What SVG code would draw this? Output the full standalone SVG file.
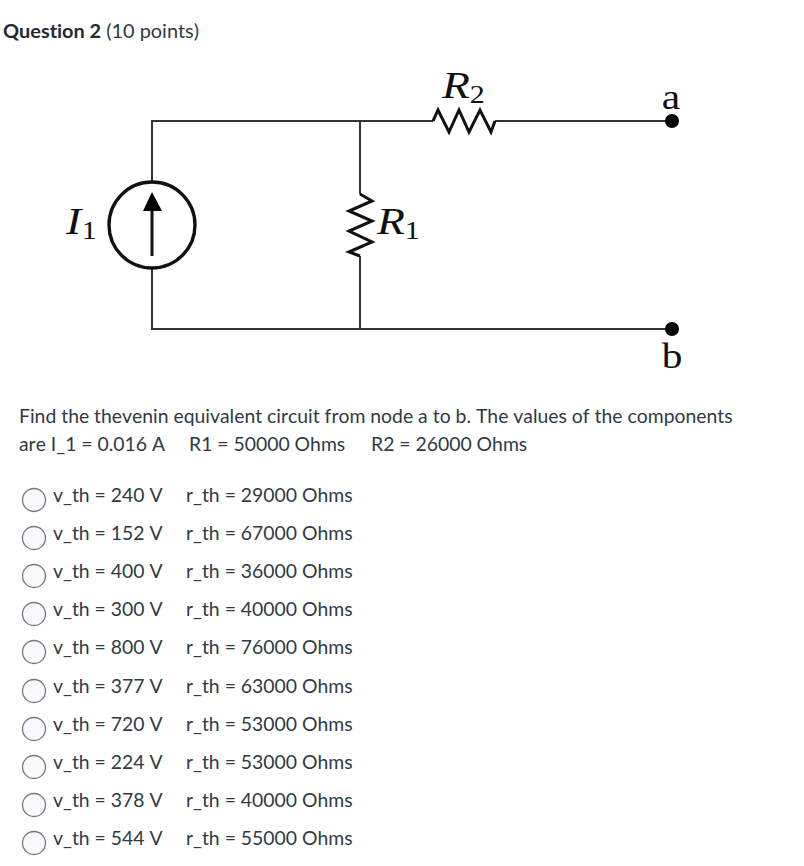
<svg xmlns="http://www.w3.org/2000/svg" width="804" height="866" viewBox="0 0 804 866">
<style>
.t{font-family:Lato,"Liberation Sans",sans-serif;font-size:19.36px;fill:#2d3b45;font-kerning:none;font-variant-ligatures:none}
.h{font-size:19.9px}
.b{font-weight:700;fill:#1f2b33}
.w{fill:none;stroke:#333;stroke-width:2}
.z{fill:none;stroke:#111;stroke-width:3;stroke-linejoin:miter}
.m{font-family:"Liberation Serif",serif;font-size:38px;font-style:italic;fill:#111}
.s{font-family:"Liberation Serif",serif;font-size:25px;font-style:normal;fill:#111}
.n{font-family:"Liberation Serif",serif;font-size:36px;fill:#111}
.r{fill:#f9fafe;stroke:#777;stroke-width:1.3}
</style>
<rect width="804" height="866" fill="#fff"/>
<text class="t h" x="3" y="38"><tspan class="b">Question 2</tspan> (10 points)</text>
<g id="connectors">
<path class="w" d="M152 181V121H433M495 121H672M360 121V194M360 256V329M152 269V329H672"/>
</g>
<g id="I1">
<circle cx="152" cy="225" r="43" fill="#fff" stroke="#111" stroke-width="3.4"/>
<path d="M152 256V205" fill="none" stroke="#111" stroke-width="3"/>
<path d="M152 192L162 211H143Z" fill="#000"/>
<text class="m" transform="translate(66 234) scale(1.2 1)">I<tspan class="s" dx="0.5" dy="5">1</tspan></text>
</g>
<g id="R1">
<path class="z" d="M360 194L372 201L349 211L372 221L349 231L372 242L349 252L360 256"/>
<text class="m" transform="translate(377 234) scale(1.2 1)">R<tspan class="s" dy="5">1</tspan></text>
</g>
<g id="R2">
<path class="z" d="M433 121L438 110L449 132L459 110L469 132L480 110L491 132L495 121"/>
<text class="m" transform="translate(442 98) scale(1.2 1)">R<tspan class="s" dy="5">2</tspan></text>
</g>
<g id="a">
<circle cx="672" cy="121" r="7" fill="#000"/>
<text class="n" transform="translate(671 109) scale(1.15 1)" text-anchor="middle">a</text>
</g>
<g id="b">
<circle cx="672" cy="329" r="7" fill="#000"/>
<text class="n" transform="translate(672 368) scale(1.15 1)" text-anchor="middle">b</text>
</g>
<g id="question">
<text class="t" x="19" y="423">Find the thevenin equivalent circuit from node a to b. The values of the components</text>
<text class="t" x="19" y="451">are I_1 = 0.016 A</text>
<text class="t" x="189" y="451">R1 = 50000 Ohms</text>
<text class="t" x="371" y="451">R2 = 26000 Ohms</text>
</g>
<g id="opt1"><circle class="r" cx="34" cy="500" r="11.5"/><text class="t" x="53" y="502">v_th = 240 V</text><text class="t" x="186" y="502">r_th = 29000 Ohms</text></g>
<g id="opt2"><circle class="r" cx="34" cy="538" r="11.5"/><text class="t" x="53" y="540">v_th = 152 V</text><text class="t" x="186" y="540">r_th = 67000 Ohms</text></g>
<g id="opt3"><circle class="r" cx="34" cy="576" r="11.5"/><text class="t" x="53" y="578">v_th = 400 V</text><text class="t" x="186" y="578">r_th = 36000 Ohms</text></g>
<g id="opt4"><circle class="r" cx="34" cy="614" r="11.5"/><text class="t" x="53" y="616">v_th = 300 V</text><text class="t" x="186" y="616">r_th = 40000 Ohms</text></g>
<g id="opt5"><circle class="r" cx="34" cy="652" r="11.5"/><text class="t" x="53" y="654">v_th = 800 V</text><text class="t" x="186" y="654">r_th = 76000 Ohms</text></g>
<g id="opt6"><circle class="r" cx="34" cy="691" r="11.5"/><text class="t" x="53" y="693">v_th = 377 V</text><text class="t" x="186" y="693">r_th = 63000 Ohms</text></g>
<g id="opt7"><circle class="r" cx="34" cy="729" r="11.5"/><text class="t" x="53" y="731">v_th = 720 V</text><text class="t" x="186" y="731">r_th = 53000 Ohms</text></g>
<g id="opt8"><circle class="r" cx="34" cy="767" r="11.5"/><text class="t" x="53" y="769">v_th = 224 V</text><text class="t" x="186" y="769">r_th = 53000 Ohms</text></g>
<g id="opt9"><circle class="r" cx="34" cy="805" r="11.5"/><text class="t" x="53" y="807">v_th = 378 V</text><text class="t" x="186" y="807">r_th = 40000 Ohms</text></g>
<g id="opt10"><circle class="r" cx="34" cy="843" r="11.5"/><text class="t" x="53" y="845">v_th = 544 V</text><text class="t" x="186" y="845">r_th = 55000 Ohms</text></g>
</svg>
